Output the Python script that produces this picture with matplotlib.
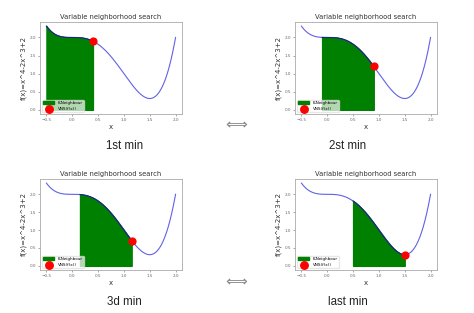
import numpy as np
import matplotlib.pyplot as plt

# f(x) = x^4 - 2x^3 + 2 (as written on the y label)
coefs = [1, -2, 0, 0, 2]
x_min, x_max = -0.5, 2.0

# neighbourhood window (start, end) and the point found in each step
starts = [-0.5, -0.1, 0.15, 0.5]
ends = [0.4, 0.9, 1.15, 1.5]
captions = ["1st min", "2st min", "3d min", "last min"]

fig = plt.figure(figsize=(4.74, 3.13), dpi=100)

# axes boxes in pixels: left, top, right, bottom
boxes = [(40, 22, 182, 114), (295, 22, 437, 114),
         (40, 179, 182, 270), (295, 179, 437, 270)]
cap_pos = [(124.5, 146), (348, 146), (124.5, 302), (348, 302)]

x = np.linspace(x_min, x_max, 300)
y = np.polyval(coefs, x)

for i in range(4):
    l, t, r, b = boxes[i]
    ax = fig.add_axes([l / 474, 1 - b / 313, (r - l) / 474, (b - t) / 313])
    xs = np.linspace(starts[i], ends[i], 100)
    ax.fill_between(xs, np.polyval(coefs, xs), color='green', label='K-Neighbour')
    ax.plot(x, y, color='#3a3adf', lw=0.8, alpha=0.8)
    ax.plot(xs, np.polyval(coefs, xs), color='#1a2a6a', lw=0.8)
    ax.scatter([ends[i]], [np.polyval(coefs, ends[i])], color='red', s=24, zorder=5,
               label='VNS(f(x))')
    ax.set_title("Variable neighborhood search", fontsize=4.9, pad=2.5, color='#333333')
    ax.set_xlabel("x", fontsize=5, labelpad=1, color='#333333')
    ax.set_ylabel("f(x)=x^4-2x^3+2", fontsize=5, labelpad=1.5, color='#333333')
    ax.set_xticks([-0.5, 0.0, 0.5, 1.0, 1.5, 2.0])
    ax.set_yticks([0.0, 0.5, 1.0, 1.5, 2.0])
    ax.tick_params(labelsize=3, length=1.5, width=0.4, pad=1.5, colors='#666666')
    for s in ax.spines.values():
        s.set_color('#aaaaaa')
        s.set_linewidth(0.6)
    ax.legend(loc='lower left', fontsize=3, framealpha=0.7, borderpad=0.3,
              handlelength=2.6, labelspacing=0.35, markerscale=1.1, edgecolor='#dddddd')
    fig.text(cap_pos[i][0] / 474, 1 - cap_pos[i][1] / 313, captions[i],
             fontsize=8.3, family='Liberation Sans', ha='center', va='center',
             color='#222222')

fig.text(236 / 474, 1 - 125 / 313, "⟺", fontsize=11, ha='center', va='center', color='#888888')
fig.text(236 / 474, 1 - 282 / 313, "⟺", fontsize=11, ha='center', va='center', color='#888888')

fig.savefig("out.png", dpi=100)
